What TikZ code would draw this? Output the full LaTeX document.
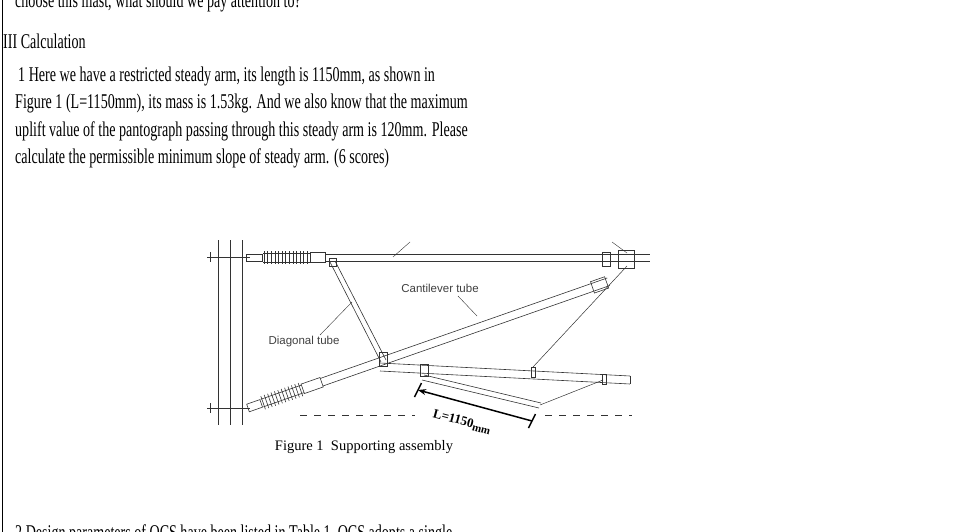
\documentclass[tikz,border=0pt]{standalone}
\usepackage{fontspec}
\setmainfont{Liberation Serif}[FakeStretch=0.67]
\newfontfamily\capfont{Liberation Serif}
\setsansfont{Liberation Sans}
\usetikzlibrary{arrows.meta,calc}
\begin{document}
\begin{tikzpicture}[x=1pt,y=-1pt,
  txt/.style={anchor=base west,inner sep=0pt,font=\fontsize{21}{23}\selectfont},
  lab/.style={inner sep=0pt,font=\sffamily\fontsize{11.5}{13}\selectfont,text=black!75},
  ln/.style={draw=black!80,line width=0.6pt},
  tube/.style={draw=black!80,line width=0.6pt}]
\useasboundingbox (0,0) rectangle (955,532);
\clip (0,0) rectangle (955,532);
\draw[line width=0.8pt] (2,0) -- (2,532);
\node[txt] (t0) at (15,8) {choose this mast, what should we pay attention to?};
\node[txt] (t1) at (3,49) {III Calculation};
\node[txt] (p1) at (18,82) {1 Here we have a restricted steady arm, its length is 1150mm, as shown in};
\node[txt] (p2) at (15,109) {Figure 1 (L=1150mm), its mass is 1.53kg. And we also know that the maximum};
\node[txt] (p3) at (15,136) {uplift value of the pantograph passing through this steady arm is 120mm. Please};
\node[txt] (p4) at (15,163) {calculate the permissible minimum slope of steady arm. (6 scores)};
\node[txt] (p5) at (15,539) {2 Design parameters of OCS have been listed in Table 1, OCS adopts a single};
% mast
\foreach \x in {218,230,242} \draw[ln,line width=0.8pt] (\x,240) -- (\x,425);
\foreach \y in {257,408}{\draw[ln,line width=1pt] (207,\y) -- (250,\y);
  \draw[ln] (210,\y-5) -- (210,\y+5);}
% top insulator + tube
\draw[ln] (246,254) rectangle (262,261);
\foreach \i in {0,...,12} \draw[ln] (264+\i*3.6,251) -- (264+\i*3.6,264);
\draw[ln] (263,253) -- (310,253) (263,262) -- (310,262);
\draw[ln] (310,252) rectangle (325,262);
\draw[tube] (325,254) -- (650,254) (325,261) -- (650,261);
\draw[ln] (618,250) rectangle (634,268);
\draw[ln] (602,252) rectangle (610,266);
\coordinate (la) at (410,242); \coordinate (lb) at (393,257);
\draw[ln,line width=0.4pt] (la) -- (lb);
\coordinate (lc) at (612,242); \coordinate (ld) at (627,253);
\draw[ln,line width=0.4pt] (lc) -- (ld);
% bottom insulator + cantilever tube
\begin{scope}[shift={(248,408)},rotate=19.3]
  \draw[ln] (0,-4) rectangle (14,4);
  \foreach \i in {0,...,11} \draw[ln] (16+\i*3.6,-7) -- (16+\i*3.6,7);
  \draw[ln] (15,-4) -- (58,-4) (15,4) -- (58,4);
  \draw[ln] (58,-5) rectangle (78,5);
  \draw[tube] (78,-4) -- (382,-4) (78,4) -- (382,4);
  \draw[ln] (365,-6) rectangle (380,6);
\end{scope}
% diagonal tube
\draw[tube] (330,262) -- (381,362) (335,261) -- (386,360);
\draw[ln] (329,258) rectangle (336,266);
\draw[ln] (379,352) rectangle (387,366);
% register arm
\draw[tube] (380,363) -- (630,376) (380,371) -- (630,384);
\draw[ln] (630,376) -- (630,384);
\draw[ln] (420,364) rectangle (428,376);
\draw[ln] (531,367) rectangle (535,377);
\draw[ln] (602,374) rectangle (606,384);
% droppers
\draw[ln,line width=0.5pt] (627,266) -- (533,367);
\draw[ln,line width=0.5pt] (540,405) -- (603,380);
% steady arm
\draw[tube] (424,375) -- (541,403) (422,380) -- (539,408);
% dashed rail level
\draw[ln,dashed,dash pattern=on 7pt off 7pt] (300,415) -- (415,415);
\draw[ln,dashed,dash pattern=on 7pt off 7pt] (545,415) -- (632,415);
% dimension
\coordinate (da) at (418,390); \coordinate (db) at (532,421);
\draw[line width=1.5pt,-{Stealth[length=8pt,width=6pt]}] (db) -- (da);
\draw[line width=1.5pt] ($(da)+(-3.5,7)$) -- ($(da)+(3.5,-7)$);
\draw[line width=1.5pt] ($(db)+(-3.5,7)$) -- ($(db)+(3.5,-7)$);
\node[rotate=-15,inner sep=0pt,font=\capfont\bfseries\fontsize{13}{14}\selectfont] (L) at (462,422) {L=1150\raisebox{-3pt}{\fontsize{11}{12}\selectfont mm}};
% labels
\node[lab] (ct) at (440,288) {Cantilever tube};
\draw[ln,line width=0.4pt] (458,296) -- (477,316);
\node[lab] (dt) at (304,342) {Diagonal tube};
\draw[ln,line width=0.4pt] (320,335) -- (352,302);
\node[inner sep=0pt,font=\capfont\fontsize{14.5}{16}\selectfont] (cap) at (364,447) {Figure 1\enspace Supporting assembly};
\end{tikzpicture}
\end{document}
